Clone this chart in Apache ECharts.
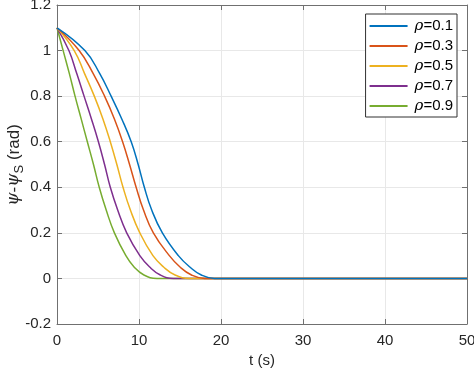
<!DOCTYPE html>
<html>
<head>
<meta charset="utf-8">
<script src="https://cdn.jsdelivr.net/npm/echarts@6/dist/echarts.min.js"></script>
<style>
html,body{margin:0;padding:0;background:#fff;}
#c{width:474px;height:370px;}
</style>
</head>
<body>
<div id="c"></div>
<script>
// Values: time (s) at which each curve crosses each level
const levels = [1.1, 1.0, 0.9, 0.8, 0.7, 0.6, 0.5, 0.4, 0.3, 0.2, 0.1, 0.05, 0.015, 0, 0];
const tRho01 = [0, 3.4, 5.2, 6.6, 7.9, 9.05, 9.9, 10.65, 11.55, 12.85, 14.8, 16.2, 17.6, 19.2, 50];
const tRho03 = [0, 2.7, 4.4, 5.8, 7.0, 8.0, 8.85, 9.65, 10.55, 11.75, 13.7, 15.0, 16.4, 18.0, 50];
const tRho05 = [0, 2.1, 3.35, 4.55, 5.6, 6.5, 7.3, 8.05, 8.95, 10.1, 11.7, 13.0, 14.4, 16.2, 50];
const tRho07 = [0, 1.45, 2.4, 3.3, 4.2, 5.05, 5.8, 6.5, 7.4, 8.5, 10.1, 11.3, 12.6, 14.2, 50];
const tRho09 = [0, 0.75, 1.5, 2.2, 2.95, 3.7, 4.45, 5.15, 6.0, 7.0, 8.4, 9.4, 10.6, 12.2, 50];
const seriesNames = ['ρ=0.1', 'ρ=0.3', 'ρ=0.5', 'ρ=0.7', 'ρ=0.9'];
const seriesTimes = [tRho01, tRho03, tRho05, tRho07, tRho09];
const colors = ['#0072BD', '#D95319', '#EDB120', '#7E2F8E', '#77AC30'];
const xTicks = {min: 0, max: 50, interval: 10};
const yTicks = {min: -0.2, max: 1.2, interval: 0.2};
const yTitle = '{g|ψ}-{g|ψ}{s|S} (rad)';
const xTitle = 't (s)';

const FONT = "'Liberation Sans', Arial, sans-serif";
const AX = '#707070';
const TXT = '#262626';
const GRID = '#e8e8e8';

const series = seriesNames.map((n, i) => ({
  name: n,
  type: 'line',
  data: seriesTimes[i].map((t, k) => [t, levels[k]]),
  smooth: 0.45,
  showSymbol: false,
  symbol: 'none',
  lineStyle: {color: colors[i], width: 1.5},
  itemStyle: {color: colors[i]},
  xAxisIndex: 0, yAxisIndex: 0,
  z: 10 - i
}));

const chart = echarts.init(document.getElementById('c'), null, {renderer: 'canvas'});
chart.setOption({
  animation: false,
  backgroundColor: '#fff',
  grid: {left: 57, right: 7, top: 5, bottom: 46, containLabel: false, outerBoundsMode: 'none'},
  graphic: [{
    type: 'text',
    x: 14, y: 165,
    rotation: Math.PI / 2,
    style: {
      text: yTitle,
      align: 'center',
      verticalAlign: 'middle',
      fill: TXT,
      fontFamily: FONT,
      fontSize: 17,
      rich: {
        g: {fontFamily: 'DejaVu Serif', fontStyle: 'italic', fontSize: 17, fill: TXT},
        s: {fontFamily: FONT, fontSize: 13, fill: TXT, padding: [10, 0, 0, 0]}
      }
    }
  }],
  legend: {
    orient: 'vertical',
    right: 17, top: 14,
    itemWidth: 38, itemHeight: 2,
    itemGap: 4,
    icon: 'rect',
    padding: [4, 4, 3, 4],
    borderColor: '#303030', borderWidth: 1, borderRadius: 0,
    backgroundColor: '#fff',
    data: seriesNames,
    formatter: function (n) { return '{i|ρ}' + n.slice(1); },
    textStyle: {
      fontFamily: FONT, fontSize: 15, color: '#000', lineHeight: 16, padding: [0, 0, 0, 2],
      rich: {i: {fontFamily: 'DejaVu Serif', fontStyle: 'italic', fontSize: 15, color: '#000'}}
    }
  },
  xAxis: [{
    type: 'value', min: xTicks.min, max: xTicks.max, interval: xTicks.interval,
    position: 'bottom',
    name: xTitle, nameLocation: 'middle', nameGap: 29,
    nameTextStyle: {fontFamily: FONT, fontSize: 15, color: TXT},
    axisLine: {show: true, onZero: false, lineStyle: {color: AX, width: 1}},
    axisTick: {show: true, inside: true, length: 5, lineStyle: {color: AX}},
    axisLabel: {fontFamily: FONT, fontSize: 15, color: TXT, margin: 9},
    splitLine: {show: true, lineStyle: {color: GRID, width: 1}}
  }, {
    type: 'value', min: xTicks.min, max: xTicks.max, interval: xTicks.interval,
    position: 'top',
    axisLine: {show: true, onZero: false, lineStyle: {color: AX, width: 1}},
    axisTick: {show: true, inside: true, length: 5, lineStyle: {color: AX}},
    axisLabel: {show: false},
    splitLine: {show: false}
  }],
  yAxis: [{
    type: 'value', min: yTicks.min, max: yTicks.max, interval: yTicks.interval,
    position: 'left',
    axisLine: {show: true, onZero: false, lineStyle: {color: AX, width: 1}},
    axisTick: {show: true, inside: true, length: 5, lineStyle: {color: AX}},
    axisLabel: {fontFamily: FONT, fontSize: 15, color: TXT, margin: 6,
      formatter: v => String(Math.round(v * 10) / 10)},
    splitLine: {show: true, lineStyle: {color: GRID, width: 1}}
  }, {
    type: 'value', min: yTicks.min, max: yTicks.max, interval: yTicks.interval,
    position: 'right',
    axisLine: {show: true, onZero: false, lineStyle: {color: AX, width: 1}},
    axisTick: {show: true, inside: true, length: 5, lineStyle: {color: AX}},
    axisLabel: {show: false},
    splitLine: {show: false}
  }],
  series: series
});
</script>
</body>
</html>
